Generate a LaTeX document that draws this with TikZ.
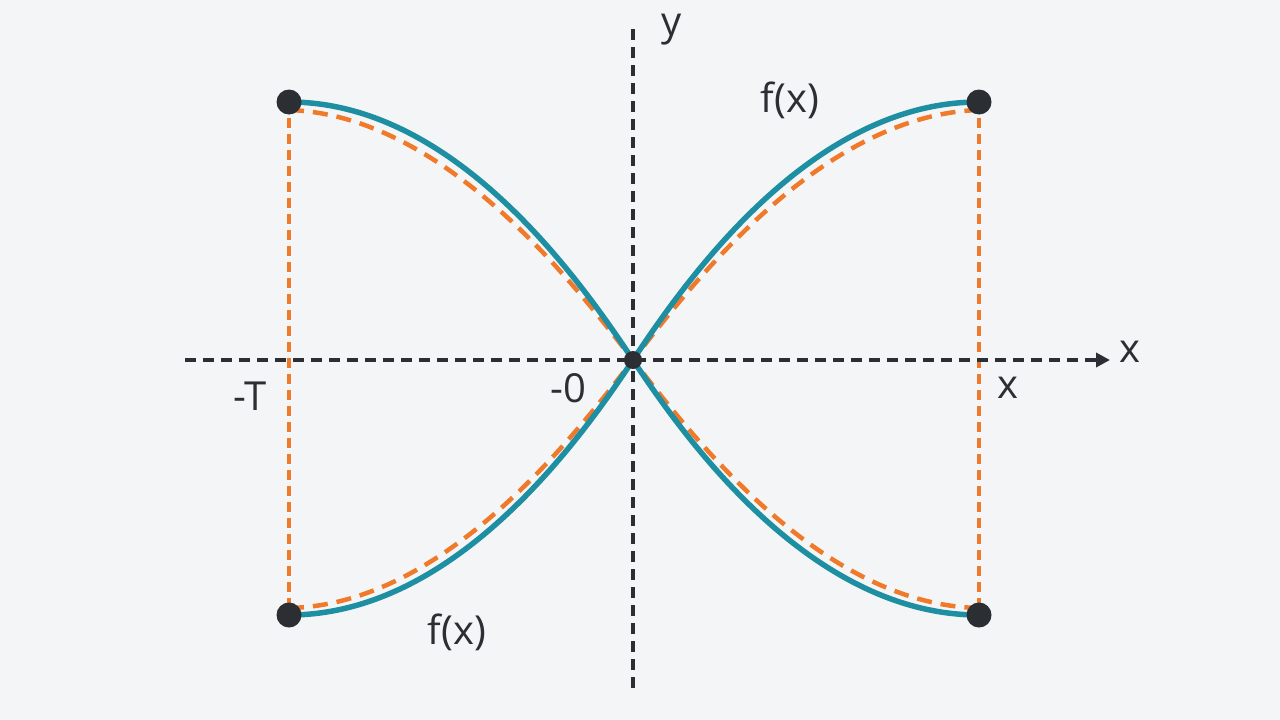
\documentclass[tikz,border=0pt]{standalone}
\usepackage{fontspec}
\setmainfont{Open Sans}
\usetikzlibrary{arrows.meta}
\definecolor{bg}{HTML}{F4F5F6}
\definecolor{ax}{HTML}{2B2F33}
\definecolor{teal}{HTML}{1E8FA3}
\definecolor{org}{HTML}{F07A2A}
\tikzset{
 axis/.style={ax,line width=4pt,dash pattern=on 11pt off 7pt},
 curve/.style={teal,line width=5.5pt},
 dcurve/.style={org,line width=4.5pt,dash pattern=on 15pt off 9pt},
 guide/.style={org,line width=3.5pt,dash pattern=on 10pt off 6pt},
 dot/.style={circle,fill=ax,inner sep=0pt,minimum size=25pt},
 lbl/.style={text=ax,font=\fontsize{40}{42}\selectfont}
}
\begin{document}
\begin{tikzpicture}[x=1pt,y=-1pt]
\fill[bg] (0,0) rectangle (1280,720);
\useasboundingbox (0,0) rectangle (1280,720);
\coordinate (O) at (633,360);
\coordinate (ytop) at (633,25);
\coordinate (ybot) at (633,688);
\coordinate (xl) at (185,360);
\coordinate (xr) at (1110,360);
\coordinate (tl) at (289,102);
\coordinate (tr) at (979,102);
\coordinate (bl) at (289,615);
\coordinate (br) at (979,615);
\draw[guide] (tl) -- (bl);
\draw[guide] (tr) -- (br);
\draw[axis] (ybot) -- (ytop);
\draw[axis,-{Triangle[length=14pt,width=14pt]}] (xl) -- (xr);
\draw[dcurve] (289,110) .. controls (445,115) and (575,285) .. (O) .. controls (691,435) and (821,605) .. (979,608);
\draw[dcurve] (289,608) .. controls (445,605) and (575,435) .. (O) .. controls (691,285) and (821,115) .. (979,110);
\draw[curve] (tl) .. controls (455,102) and (580,280) .. (O) .. controls (686,440) and (811,615) .. (br);
\draw[curve] (bl) .. controls (455,615) and (580,440) .. (O) .. controls (686,280) and (811,102) .. (tr);
\node[dot] (ntl) at (tl) {};
\node[dot] (ntr) at (tr) {};
\node[dot] (nbl) at (bl) {};
\node[dot] (nbr) at (br) {};
\fill[ax] (O) circle (9pt);
\node[lbl] (ly) at (672,30) {y};
\node[lbl] (lx) at (1130,352) {x};
\node[lbl] (lX) at (1008,388) {x};
\node[lbl] (lT) at (250,396) {-T};
\node[lbl] (l0) at (568,388) {-0};
\node[lbl] (f1) at (790,100) {f(x)};
\node[lbl] (f2) at (457,632) {f(x)};
\end{tikzpicture}
\end{document}
